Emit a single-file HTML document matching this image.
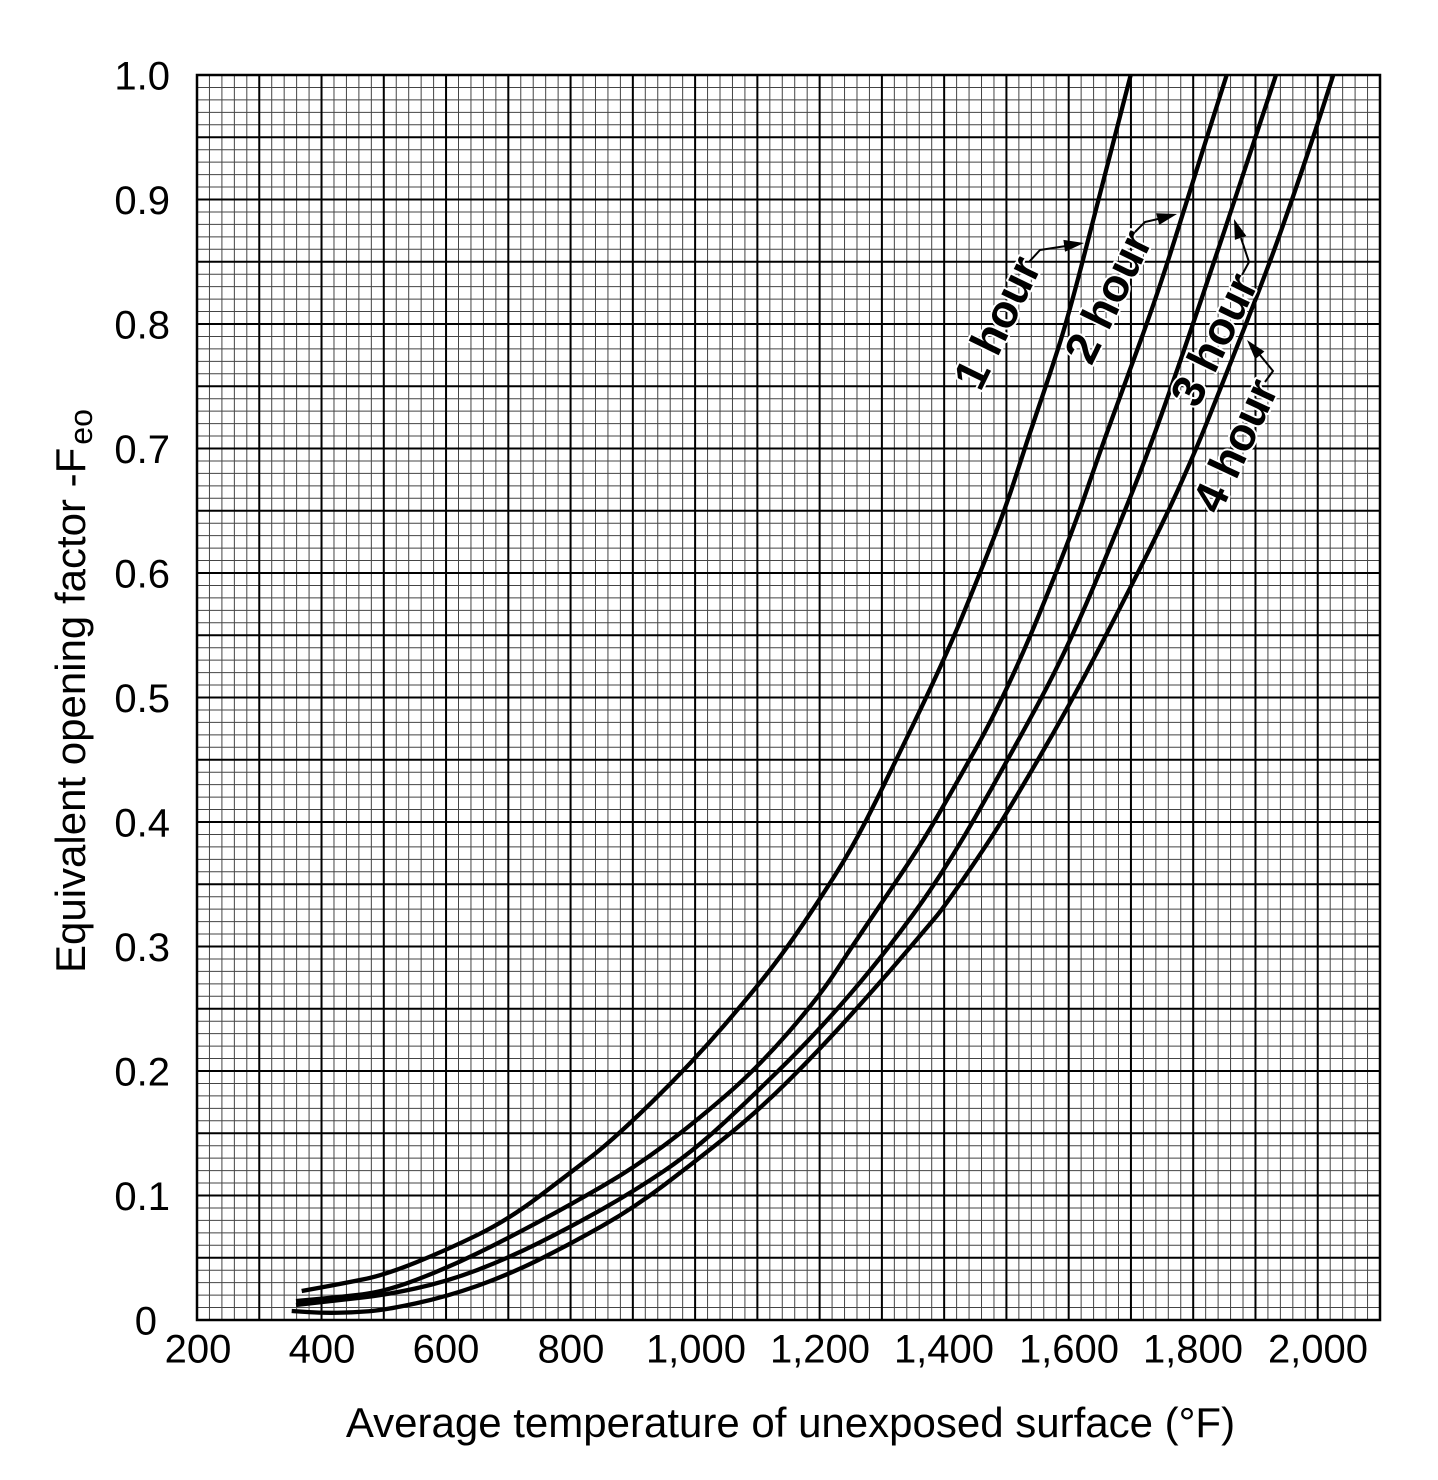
<!DOCTYPE html>
<html>
<head>
<meta charset="utf-8">
<style>
  html, body { margin: 0; padding: 0; background: #fff; }
  svg { display: block; }
  text { font-family: "Liberation Sans", Arial, sans-serif; fill: #000; }
</style>
</head>
<body>
<svg width="1438" height="1480" viewBox="0 0 1438 1480" xmlns="http://www.w3.org/2000/svg">
  <rect x="0" y="0" width="1438" height="1480" fill="#fff"/>

  <!-- minor grid vertical -->
  <path fill="none" stroke="#444" stroke-width="1" d="M197,75v1245
  m12.4526,-1245v1245m12.4526,-1245v1245m12.4526,-1245v1245m12.4526,-1245v1245m12.4526,-1245v1245
  m12.4526,-1245v1245m12.4526,-1245v1245m12.4526,-1245v1245m12.4526,-1245v1245m12.4526,-1245v1245
  m12.4526,-1245v1245m12.4526,-1245v1245m12.4526,-1245v1245m12.4526,-1245v1245m12.4526,-1245v1245
  m12.4526,-1245v1245m12.4526,-1245v1245m12.4526,-1245v1245m12.4526,-1245v1245m12.4526,-1245v1245
  m12.4526,-1245v1245m12.4526,-1245v1245m12.4526,-1245v1245m12.4526,-1245v1245m12.4526,-1245v1245
  m12.4526,-1245v1245m12.4526,-1245v1245m12.4526,-1245v1245m12.4526,-1245v1245m12.4526,-1245v1245
  m12.4526,-1245v1245m12.4526,-1245v1245m12.4526,-1245v1245m12.4526,-1245v1245m12.4526,-1245v1245
  m12.4526,-1245v1245m12.4526,-1245v1245m12.4526,-1245v1245m12.4526,-1245v1245m12.4526,-1245v1245
  m12.4526,-1245v1245m12.4526,-1245v1245m12.4526,-1245v1245m12.4526,-1245v1245m12.4526,-1245v1245
  m12.4526,-1245v1245m12.4526,-1245v1245m12.4526,-1245v1245m12.4526,-1245v1245m12.4526,-1245v1245
  m12.4526,-1245v1245m12.4526,-1245v1245m12.4526,-1245v1245m12.4526,-1245v1245m12.4526,-1245v1245
  m12.4526,-1245v1245m12.4526,-1245v1245m12.4526,-1245v1245m12.4526,-1245v1245m12.4526,-1245v1245
  m12.4526,-1245v1245m12.4526,-1245v1245m12.4526,-1245v1245m12.4526,-1245v1245m12.4526,-1245v1245
  m12.4526,-1245v1245m12.4526,-1245v1245m12.4526,-1245v1245m12.4526,-1245v1245m12.4526,-1245v1245
  m12.4526,-1245v1245m12.4526,-1245v1245m12.4526,-1245v1245m12.4526,-1245v1245m12.4526,-1245v1245
  m12.4526,-1245v1245m12.4526,-1245v1245m12.4526,-1245v1245m12.4526,-1245v1245m12.4526,-1245v1245
  m12.4526,-1245v1245m12.4526,-1245v1245m12.4526,-1245v1245m12.4526,-1245v1245m12.4526,-1245v1245
  m12.4526,-1245v1245m12.4526,-1245v1245m12.4526,-1245v1245m12.4526,-1245v1245m12.4526,-1245v1245
  m12.4526,-1245v1245m12.4526,-1245v1245m12.4526,-1245v1245m12.4526,-1245v1245m12.4526,-1245v1245"/>

  <!-- minor grid horizontal -->
  <path fill="none" stroke="#444" stroke-width="1" d="M197,75h1183
  m-1183,12.45h1183m-1183,12.45h1183m-1183,12.45h1183m-1183,12.45h1183m-1183,12.45h1183
  m-1183,12.45h1183m-1183,12.45h1183m-1183,12.45h1183m-1183,12.45h1183m-1183,12.45h1183
  m-1183,12.45h1183m-1183,12.45h1183m-1183,12.45h1183m-1183,12.45h1183m-1183,12.45h1183
  m-1183,12.45h1183m-1183,12.45h1183m-1183,12.45h1183m-1183,12.45h1183m-1183,12.45h1183
  m-1183,12.45h1183m-1183,12.45h1183m-1183,12.45h1183m-1183,12.45h1183m-1183,12.45h1183
  m-1183,12.45h1183m-1183,12.45h1183m-1183,12.45h1183m-1183,12.45h1183m-1183,12.45h1183
  m-1183,12.45h1183m-1183,12.45h1183m-1183,12.45h1183m-1183,12.45h1183m-1183,12.45h1183
  m-1183,12.45h1183m-1183,12.45h1183m-1183,12.45h1183m-1183,12.45h1183m-1183,12.45h1183
  m-1183,12.45h1183m-1183,12.45h1183m-1183,12.45h1183m-1183,12.45h1183m-1183,12.45h1183
  m-1183,12.45h1183m-1183,12.45h1183m-1183,12.45h1183m-1183,12.45h1183m-1183,12.45h1183
  m-1183,12.45h1183m-1183,12.45h1183m-1183,12.45h1183m-1183,12.45h1183m-1183,12.45h1183
  m-1183,12.45h1183m-1183,12.45h1183m-1183,12.45h1183m-1183,12.45h1183m-1183,12.45h1183
  m-1183,12.45h1183m-1183,12.45h1183m-1183,12.45h1183m-1183,12.45h1183m-1183,12.45h1183
  m-1183,12.45h1183m-1183,12.45h1183m-1183,12.45h1183m-1183,12.45h1183m-1183,12.45h1183
  m-1183,12.45h1183m-1183,12.45h1183m-1183,12.45h1183m-1183,12.45h1183m-1183,12.45h1183
  m-1183,12.45h1183m-1183,12.45h1183m-1183,12.45h1183m-1183,12.45h1183m-1183,12.45h1183
  m-1183,12.45h1183m-1183,12.45h1183m-1183,12.45h1183m-1183,12.45h1183m-1183,12.45h1183
  m-1183,12.45h1183m-1183,12.45h1183m-1183,12.45h1183m-1183,12.45h1183m-1183,12.45h1183
  m-1183,12.45h1183m-1183,12.45h1183m-1183,12.45h1183m-1183,12.45h1183m-1183,12.45h1183
  m-1183,12.45h1183m-1183,12.45h1183m-1183,12.45h1183m-1183,12.45h1183m-1183,12.45h1183"/>

  <!-- major grid -->
  <path fill="none" stroke="#000" stroke-width="2" d="M197,75v1245
  m62.263,-1245v1245m62.263,-1245v1245m62.263,-1245v1245m62.263,-1245v1245m62.263,-1245v1245
  m62.263,-1245v1245m62.263,-1245v1245m62.263,-1245v1245m62.263,-1245v1245m62.263,-1245v1245
  m62.263,-1245v1245m62.263,-1245v1245m62.263,-1245v1245m62.263,-1245v1245m62.263,-1245v1245
  m62.263,-1245v1245m62.263,-1245v1245m62.263,-1245v1245m62.263,-1245v1245"/>
  <path fill="none" stroke="#000" stroke-width="2" d="M197,75h1183
  m-1183,62.25h1183m-1183,62.25h1183m-1183,62.25h1183m-1183,62.25h1183m-1183,62.25h1183
  m-1183,62.25h1183m-1183,62.25h1183m-1183,62.25h1183m-1183,62.25h1183m-1183,62.25h1183
  m-1183,62.25h1183m-1183,62.25h1183m-1183,62.25h1183m-1183,62.25h1183m-1183,62.25h1183
  m-1183,62.25h1183m-1183,62.25h1183m-1183,62.25h1183m-1183,62.25h1183m-1183,62.25h1183"/>

  <!-- border -->
  <rect x="197" y="75" width="1183" height="1245" fill="none" stroke="#000" stroke-width="2.5"/>

  <!-- curves -->
  <g fill="none" stroke="#000" stroke-width="4.3" stroke-linejoin="round" stroke-linecap="butt">
    <!-- 1 hour -->
    <path d="M301.7,1291 L320.85,1287.5 Q340,1284 362.5,1279.5 Q385,1275 415.85,1262.5 Q446.7,1250 477.35,1235 Q508,1220 539,1196.5 Q570,1173 591.5,1156.5 Q613,1140 652.35,1101.65 Q691.7,1063.3 724.5,1025 Q757.3,986.7 772.8,966.35 Q788.3,946 803.8,923 Q819.3,900 835.15,875 Q851,850 866.35,820 Q881.7,790 913,725 Q944.3,660 962.15,616.65 Q980,573.3 993.35,539.15 Q1006.7,505 1016.7,473.5 Q1026.7,442 1037.35,411 Q1048,380 1058.15,348.35 Q1068.3,316.7 1083.35,258.35 Q1098.4,200 1106.45,168.85 Q1114.5,137.7 1122.6,106.35 L1130.7,75"/>
    <!-- 2 hour -->
    <path d="M296,1301 L318,1299 Q340,1297 362.5,1294.35 Q385,1291.7 415.85,1280 Q446.7,1268.3 477.35,1253.3 Q508,1238.3 539,1221.65 Q570,1205 601.65,1186.65 Q633.3,1168.3 662.5,1146.65 Q691.7,1125 724.5,1096.65 Q757.3,1068.3 788.3,1032.5 Q819.3,996.7 835.15,972.35 Q851,948 866.65,925 Q882.3,902 899.5,876.5 Q916.7,851 930.5,828 Q944.3,805 975.5,749.15 Q1006.7,693.3 1037.85,617.5 Q1069,541.7 1086,492.35 Q1103,443 1116.5,406.5 Q1130,370 1140.85,340 Q1151.7,310 1160.85,282.5 Q1170,255 1181.35,218.5 Q1192.7,182 1209.7,128.5 L1226.7,75"/>
    <!-- 3 hour -->
    <path d="M296,1305 L318,1302.5 Q340,1300 362.5,1297.5 Q385,1295 415.85,1288.35 Q446.7,1281.7 477.35,1270 Q508,1258.3 539,1242.8 Q570,1227.3 601.65,1209.5 Q633.3,1191.7 664.15,1170.85 Q695,1150 726.15,1120.85 Q757.3,1091.7 788.3,1060.85 Q819.3,1030 850.8,993.35 Q882.3,956.7 913.3,914.2 Q944.3,871.7 975.5,816.85 Q1006.7,762 1037.85,704.35 Q1069,646.7 1100,571.35 Q1131,496 1141,470 Q1151,444 1161.5,414.5 Q1172,385 1182.5,354.5 Q1193,324 1203.5,293 Q1214,262 1224.5,230.5 Q1235,199 1245.25,168 Q1255.5,137 1265.75,106 L1276,75"/>
    <!-- 4 hour -->
    <path d="M291.7,1311 L306.85,1312 Q322,1313 337.5,1312.75 Q353,1312.5 369,1311.25 Q385,1310 415.85,1303.35 Q446.7,1296.7 477.35,1285.85 Q508,1275 539,1259.65 Q570,1244.3 601.65,1226.3 Q633.3,1208.3 664.15,1185 Q695,1161.7 726.15,1136.7 Q757.3,1111.7 788.3,1080.85 Q819.3,1050 850.8,1015 Q882.3,980 906.15,952 Q930,924 937.15,915.35 Q944.3,906.7 963.8,878.35 Q983.3,850 995,831.65 Q1006.7,813.3 1037.85,760 Q1069,706.7 1100,646.7 Q1131,586.7 1149.65,549.2 Q1168.3,511.7 1183.15,478.35 Q1198,445 1209.5,416 Q1221,387 1233.5,355.5 Q1246,324 1258,293 Q1270,262 1281,231 Q1292,200 1303,167.5 Q1314,135 1323.65,105 L1333.3,75"/>
  </g>

  <!-- curve labels -->
  <g font-size="46" font-weight="bold" text-anchor="middle" stroke="#fff" stroke-width="4" paint-order="stroke" stroke-linejoin="round">
    <text transform="translate(998,323) rotate(-64)" dy="0.32em">1 hour</text>
    <text transform="translate(1109,297) rotate(-64)" dy="0.32em">2 hour</text>
    <text transform="translate(1215,340) rotate(-64)" dy="0.32em">3 hour</text>
    <text transform="translate(1236,446) rotate(-65)" dy="0.32em">4 hour</text>
  </g>

  <!-- arrows -->
  <g fill="none" stroke="#000" stroke-width="2" stroke-linejoin="round">
    <polyline points="1029,262 1040,250 1066,246"/>
    <polyline points="1135,232 1145,222 1158,219"/>
    <polyline points="1242,275 1249,262 1241,238"/>
    <polyline points="1265,382 1273,371 1260,355"/>
  </g>
  <g fill="#000" stroke="none">
    <polygon points="1084,243 1065,251.7 1063.4,239.9"/>
    <polygon points="1177,214 1159.2,224.9 1156.2,213.3"/>
    <polygon points="1234,219 1246.3,235.9 1234.9,239.9"/>
    <polygon points="1247,340 1264.4,351.5 1255.2,359.2"/>
  </g>

  <!-- y tick labels -->
  <g font-size="40" text-anchor="end">
    <text x="170" y="89.3">1.0</text>
    <text x="170" y="213.8">0.9</text>
    <text x="170" y="338.3">0.8</text>
    <text x="170" y="462.8">0.7</text>
    <text x="170" y="587.3">0.6</text>
    <text x="170" y="711.8">0.5</text>
    <text x="170" y="836.3">0.4</text>
    <text x="170" y="960.8">0.3</text>
    <text x="170" y="1085.3">0.2</text>
    <text x="170" y="1209.8">0.1</text>
    <text x="157" y="1334.3">0</text>
  </g>

  <!-- x tick labels -->
  <g font-size="40" text-anchor="middle">
    <text x="198" y="1362.5">200</text>
    <text x="322" y="1362.5">400</text>
    <text x="446" y="1362.5">600</text>
    <text x="571" y="1362.5">800</text>
    <text x="696" y="1362.5">1,000</text>
    <text x="820" y="1362.5">1,200</text>
    <text x="944" y="1362.5">1,400</text>
    <text x="1069" y="1362.5">1,600</text>
    <text x="1193" y="1362.5">1,800</text>
    <text x="1318" y="1362.5">2,000</text>
  </g>

  <!-- axis titles -->
  <text x="790.5" y="1437" font-size="42" text-anchor="middle">Average temperature of unexposed surface (°F)</text>
  <text transform="translate(85,973) rotate(-90)" font-size="42">Equivalent opening factor -F<tspan font-size="32" dx="3" dy="7">eo</tspan></text>
</svg>
</body>
</html>
